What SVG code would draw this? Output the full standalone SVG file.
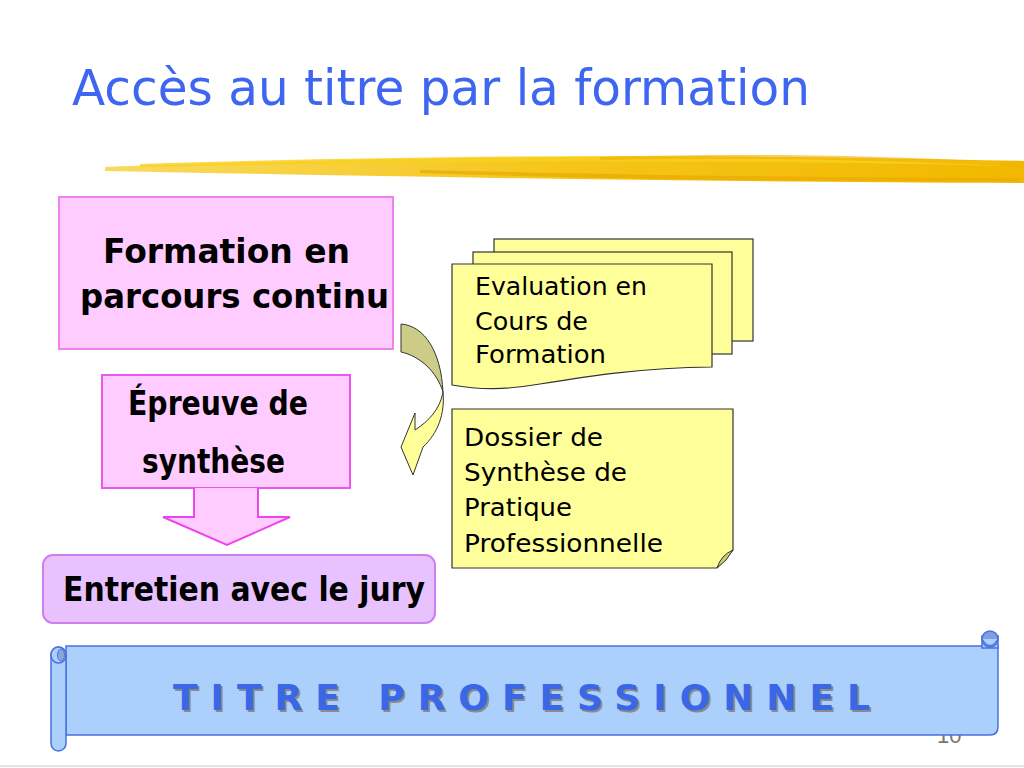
<svg xmlns="http://www.w3.org/2000/svg" width="1024" height="768" viewBox="0 0 1024 768">
<defs>
<style>
.t{font-family:"DejaVu Sans","Liberation Sans",sans-serif;fill:#000}
.b{font-weight:bold;font-size:33px}
.r{font-size:25px}
.pink{fill:#FFCCFF}
.doc{fill:#FFFF99;stroke:#333;stroke-width:1.2}
.scr{fill:#AAD0FB;stroke:#4A70E0;stroke-width:1.5}
</style>
<linearGradient id="gold" x1="0" y1="0" x2="1" y2="0">
<stop offset="0" stop-color="#F8DA60"/>
<stop offset="0.5" stop-color="#F5C518"/>
<stop offset="1" stop-color="#F2B800"/>
</linearGradient>
</defs>
<rect width="1024" height="768" fill="#fff"/>
<line x1="0" y1="766" x2="1024" y2="766" stroke="#E4E4E4" stroke-width="2"/>

<g id="title">
<text class="t" x="72" y="105" font-size="50" style="fill:#3F66F0" textLength="738" lengthAdjust="spacingAndGlyphs">Accès au titre par la formation</text>
</g>

<g id="brush">
<path d="M105,167 C300,160 600,151 1024,161 L1024,183 C700,182 420,177 105,171 Z" fill="url(#gold)"/>
<path d="M140,164 C400,156 700,152 1000,162 L1000,166 C700,158 400,162 140,167 Z" fill="#F9D020" opacity="0.8"/>
<path d="M420,170 C600,174 800,178 1020,178 L1020,181 C800,182 600,179 420,173 Z" fill="#E9A900" opacity="0.7"/>
<path d="M600,157 C750,153 900,155 1020,164 L1020,167 C900,160 750,157 600,160 Z" fill="#F0B000" opacity="0.6"/>
</g>

<g id="formation">
<rect class="pink" x="59" y="197" width="334" height="152" stroke="#EE82EE" stroke-width="2"/>
<text class="t b" x="103" y="263" textLength="247" lengthAdjust="spacingAndGlyphs">Formation en</text>
<text class="t b" x="80" y="308" textLength="309" lengthAdjust="spacingAndGlyphs">parcours continu</text>
</g>

<g id="epreuve">
<rect class="pink" x="102" y="375" width="248" height="113" stroke="#EE55EE" stroke-width="2"/>
<text class="t b" x="128" y="415" textLength="180" lengthAdjust="spacingAndGlyphs">Épreuve de</text>
<text class="t b" x="142" y="473" textLength="143" lengthAdjust="spacingAndGlyphs">synthèse</text>
</g>

<g id="entretien">
<rect x="43" y="555" width="392" height="68" rx="10" fill="#E8C2FF" stroke="#CC80EE" stroke-width="2"/>
<text class="t b" x="63" y="601" textLength="362" lengthAdjust="spacingAndGlyphs">Entretien avec le jury</text>
</g>

<g id="evaluation">
<rect class="doc" x="494" y="239" width="259" height="102"/>
<rect class="doc" x="473" y="252" width="259" height="102"/>
<path class="doc" d="M452,264 H712 V367 C640,368 590,376 540,384 C505,390 480,390 452,385 Z"/>
<text class="t r" x="475" y="295" textLength="172" lengthAdjust="spacingAndGlyphs">Evaluation en</text>
<text class="t r" x="475" y="330" textLength="113" lengthAdjust="spacingAndGlyphs">Cours de</text>
<text class="t r" x="475" y="363" textLength="131" lengthAdjust="spacingAndGlyphs">Formation</text>
</g>

<g id="dossier">
<path class="doc" d="M452,409 H733 V550 L717,568 H452 Z"/>
<path d="M733,550 Q721,555 717,568 Q727,561 733,550 Z" fill="#CCCC77" stroke="#333" stroke-width="1"/>
<text class="t r" x="464" y="446" textLength="139" lengthAdjust="spacingAndGlyphs">Dossier de</text>
<text class="t r" x="464" y="481" textLength="163" lengthAdjust="spacingAndGlyphs">Synthèse de</text>
<text class="t r" x="464" y="516" textLength="108" lengthAdjust="spacingAndGlyphs">Pratique</text>
<text class="t r" x="464" y="552" textLength="199" lengthAdjust="spacingAndGlyphs">Professionnelle</text>
</g>

<g id="connectors">
<path d="M401,324 C425,326 441,352 443,392 C437,372 420,356 401,352 Z" fill="#CCCC88" stroke="#333" stroke-width="1"/>
<path d="M443,392 C445,414 438,433 423,447 L413,475 L401,447 L415,413 L415,430 C429,421 440,409 443,392 Z" fill="#FFFF99" stroke="#333" stroke-width="1"/>
<path d="M194,488 V517 H163 L227,545 L290,517 H258 V488" fill="#FFCCFF" stroke="#EE44EE" stroke-width="2"/>
</g>

<text x="937" y="743" font-family="Liberation Sans, sans-serif" font-size="22" fill="#777">10</text>

<g id="titre">
<path class="scr" d="M66,646 H998 V727 Q998,735 990,735 H66 Z"/>
<rect class="scr" x="982" y="636" width="16" height="12"/>
<circle cx="990" cy="639" r="8" fill="#7D9EE0" stroke="#4A70E0" stroke-width="1.5"/>
<path d="M982,639 Q990,652 998,639" fill="#AAD0FB" stroke="#4A70E0" stroke-width="1.2"/>
<rect class="scr" x="51" y="647" width="15" height="104" rx="7.5"/>
<ellipse cx="58.5" cy="655" rx="7.5" ry="8" fill="#AAD0FB" stroke="#4A70E0" stroke-width="1.5"/>
<ellipse cx="61" cy="655" rx="3.5" ry="6" fill="#8AA6D8" stroke="#4A70E0" stroke-width="1"/>
<text x="175" y="712" font-family="DejaVu Sans, sans-serif" font-weight="bold" font-size="36" fill="#8A8A8A" textLength="697" lengthAdjust="spacing">TITRE  PROFESSIONNEL</text>
<text x="173" y="710" font-family="DejaVu Sans, sans-serif" font-weight="bold" font-size="36" fill="#3A66E8" textLength="697" lengthAdjust="spacing">TITRE  PROFESSIONNEL</text>
</g>
</svg>
